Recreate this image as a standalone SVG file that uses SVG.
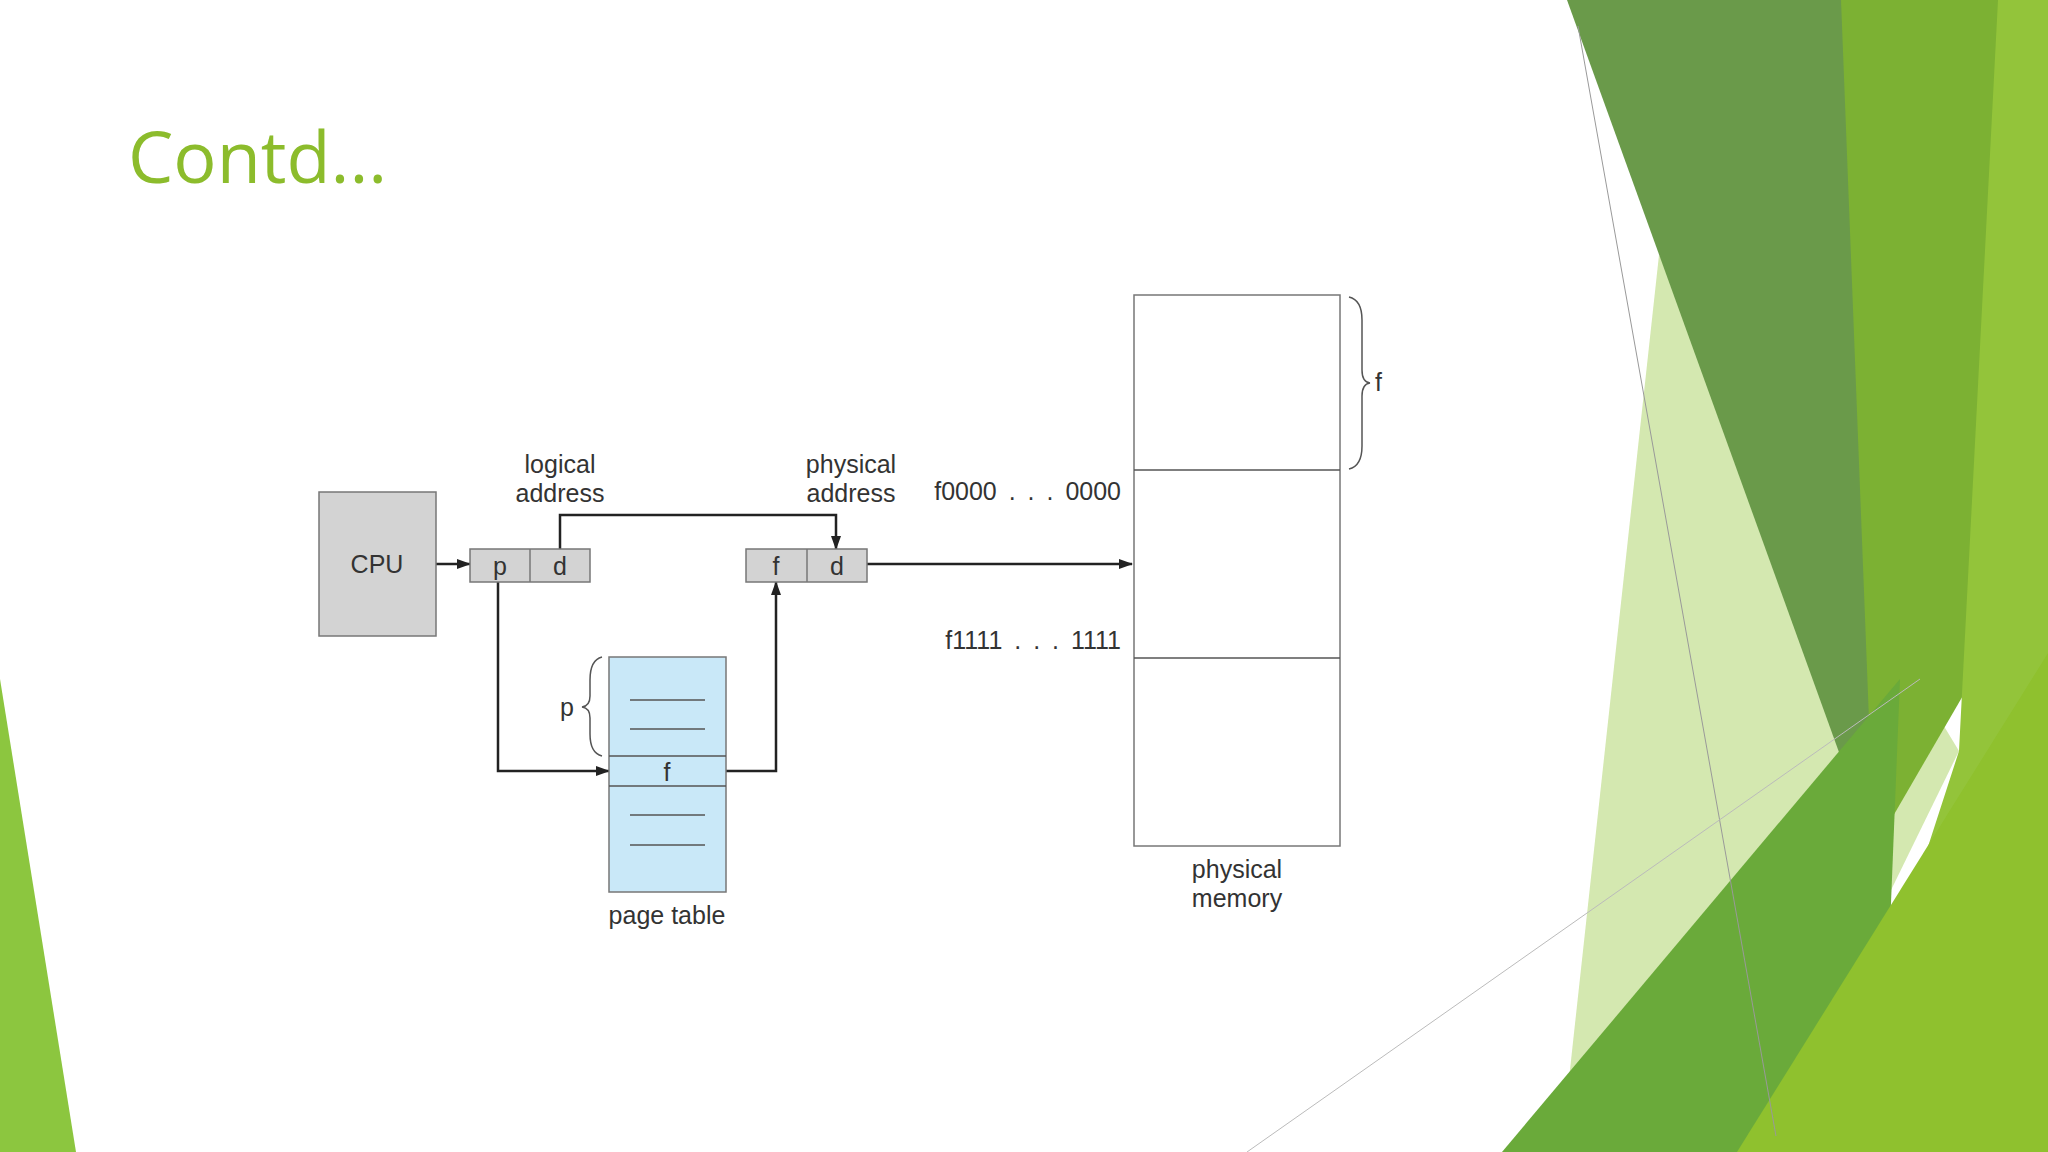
<svg xmlns="http://www.w3.org/2000/svg" width="2048" height="1152" viewBox="0 0 2048 1152">
<defs>
<style>
.t{font-family:"Liberation Sans",Arial,sans-serif;font-size:25px;fill:#333}
.c{text-anchor:middle}
.ln{stroke:#222;stroke-width:2.5;fill:none}
.thin{stroke:#555;stroke-width:1.5;fill:none}
</style>
<marker id="a" markerWidth="14" markerHeight="12" refX="13" refY="6" orient="auto" markerUnits="userSpaceOnUse"><path d="M0,1 L14,6 L0,11 z" fill="#222"/></marker>
</defs>
<rect width="2048" height="1152" fill="#fff"/>
<g id="decor">
<polygon points="0,679 76,1152 0,1152" fill="#8cc63f"/>
<polygon points="1659,255 1959,751 1763,1152 1561,1152" fill="#d4e8b0"/>
<polygon points="1567,0 1998,0 1920,549 1874,849" fill="#6a9a4a"/>
<polygon points="1841,0 2048,0 2048,549 1874,849" fill="#7cb133"/>
<polygon points="1998,0 2048,0 2048,1152 1829,1152 1959,751" fill="#93c43a"/>
<polygon points="1502,1152 1900,679 1881,1152" fill="#6aaa3a"/>
<polygon points="1737,1152 2048,653 2048,1152" fill="#8fc12e"/>
<line x1="1578" y1="26" x2="1776" y2="1136" stroke="#999" stroke-width="1"/>
<line x1="1247" y1="1152" x2="1920" y2="679" stroke="#bbb" stroke-width="1"/>
</g>
<text x="128" y="183" font-family="'Open Sans','Liberation Sans',sans-serif" font-size="72" fill="#8cbc2c">Contd...</text>
<g id="connectors">
<line class="ln" x1="436" y1="564" x2="470" y2="564" marker-end="url(#a)"/>
<polyline class="ln" points="560,549 560,515 836,515 836,549" marker-end="url(#a)"/>
<polyline class="ln" points="498,582 498,771 609,771" marker-end="url(#a)"/>
<polyline class="ln" points="726,771 776,771 776,582" marker-end="url(#a)"/>
<line class="ln" x1="867" y1="564" x2="1132" y2="564" marker-end="url(#a)"/>
</g>
<g id="cpu"><rect x="319" y="492" width="117" height="144" fill="#d3d3d3" stroke="#777" stroke-width="1.5"/><text class="t c" x="377" y="573">CPU</text></g>
<g id="logical">
<rect x="470" y="549" width="120" height="33" fill="#d3d3d3" stroke="#777" stroke-width="1.5"/><line x1="530" y1="549" x2="530" y2="582" stroke="#777" stroke-width="1.5"/>
<text class="t c" x="500" y="575">p</text><text class="t c" x="560" y="575">d</text>
<text class="t c" x="560" y="473">logical</text><text class="t c" x="560" y="502">address</text>
</g>
<g id="physical">
<rect x="746" y="549" width="121" height="33" fill="#d3d3d3" stroke="#777" stroke-width="1.5"/><line x1="807" y1="549" x2="807" y2="582" stroke="#777" stroke-width="1.5"/>
<text class="t c" x="776" y="575">f</text><text class="t c" x="837" y="575">d</text>
<text class="t c" x="851" y="473">physical</text><text class="t c" x="851" y="502">address</text>
</g>
<g id="pagetable">
<rect x="609" y="657" width="117" height="235" fill="#c9e8f8" stroke="#777" stroke-width="1.5"/>
<line x1="609" y1="756" x2="726" y2="756" class="thin"/><line x1="609" y1="786" x2="726" y2="786" class="thin"/>
<line x1="630" y1="700" x2="705" y2="700" class="thin"/><line x1="630" y1="729" x2="705" y2="729" class="thin"/>
<line x1="630" y1="815" x2="705" y2="815" class="thin"/><line x1="630" y1="845" x2="705" y2="845" class="thin"/>
<text class="t c" x="667" y="781">f</text>
<path class="thin" d="M602,657 Q590,660 590,680 L590,696 Q590,706 582,707 Q590,708 590,718 L590,734 Q590,753 602,756"/>
<text class="t c" x="567" y="716">p</text>
<text class="t c" x="667" y="924">page table</text>
</g>
<g id="memory">
<rect x="1134" y="295" width="206" height="551" fill="#fff" stroke="#777" stroke-width="1.5"/>
<line x1="1134" y1="470" x2="1340" y2="470" class="thin"/><line x1="1134" y1="658" x2="1340" y2="658" class="thin"/>
<path class="thin" d="M1349,297 Q1362,300 1362,320 L1362,370 Q1362,382 1370,383 Q1362,384 1362,396 L1362,446 Q1362,466 1349,469"/>
<text class="t" x="1375" y="391">f</text>
<text class="t" x="1121" y="500" text-anchor="end" word-spacing="5">f0000 . . . 0000</text>
<text class="t" x="1121" y="649" text-anchor="end" word-spacing="5">f1111 . . . 1111</text>
<text class="t c" x="1237" y="878">physical</text><text class="t c" x="1237" y="907">memory</text>
</g>
</svg>
